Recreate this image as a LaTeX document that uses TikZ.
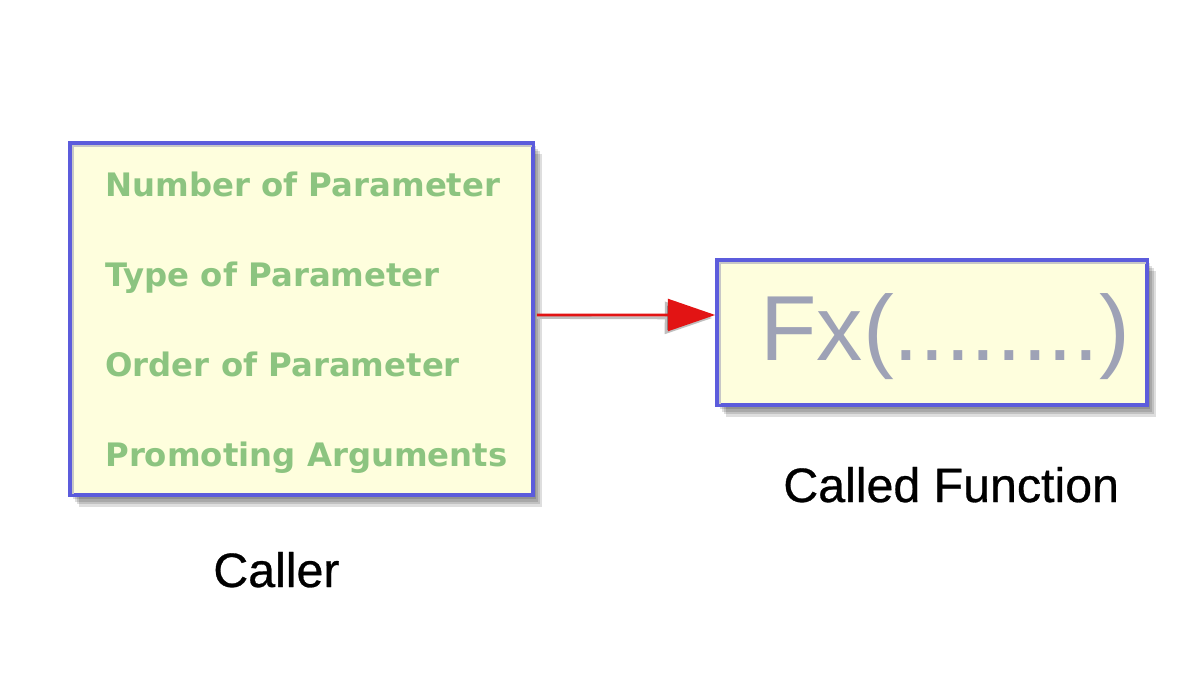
\documentclass[tikz,border=0pt]{standalone}
\usepackage{fontspec}
\setmainfont{Liberation Sans}
\newfontfamily\verd{DejaVu Sans}
\newfontfamily\labelfont[FakeBold=0.6]{Liberation Sans}
\usetikzlibrary{arrows.meta}
\definecolor{boxfill}{RGB}{254,254,221}
\definecolor{boxline}{RGB}{92,92,220}
\definecolor{paramgreen}{RGB}{140,196,128}
\definecolor{fxgrey}{RGB}{158,162,182}
\definecolor{arrowred}{RGB}{226,20,20}
\tikzset{
  px/.style={x=0.02cm,y=-0.02cm},
  box/.style={draw=boxline,line width=2pt,fill=boxfill,inner sep=0pt},
  shade1/.style={fill=black,opacity=0.13,draw=none},
  innerline/.style={black!22,line width=1.4pt},
  param/.style={anchor=base west,inner sep=0pt,text=paramgreen,font=\verd\bfseries\fontsize{18.4}{20}\selectfont},
  label/.style={anchor=base west,inner sep=0pt,text=black,font=\labelfont\fontsize{27.5}{30}\selectfont},
  fxtext/.style={anchor=base west,inner sep=0pt,text=fxgrey,font=\fontsize{52.6}{56}\selectfont},
  callarrow/.style={draw=arrowred,line width=1.5pt,-{Triangle[length=0.95cm,width=0.64cm,fill=arrowred]}},
  callarrowshadow/.style={draw=black!25,line width=1.6pt,-{Triangle[length=0.95cm,width=0.64cm,fill=black!85]}},
}
\begin{document}
\begin{tikzpicture}[px]
\useasboundingbox[fill=white] (0,0) rectangle (1200,675);
\path node[minimum width=0.02cm*463,minimum height=0.02cm*352,inner sep=0pt] (callerbg) at (301.5,319) {}
      node[minimum width=0.02cm*430,minimum height=0.02cm*145,inner sep=0pt] (calleebg) at (932,332.5) {};
% soft shadows
\foreach \s in {3,5,7,9}{
  \fill[shade1] ([xshift=\s*0.02cm,yshift=-\s*0.025cm]callerbg.south west) rectangle ([xshift=\s*0.02cm,yshift=-\s*0.025cm]callerbg.north east);
  \fill[shade1] ([xshift=\s*0.02cm,yshift=-\s*0.025cm]calleebg.south west) rectangle ([xshift=\s*0.02cm,yshift=-\s*0.025cm]calleebg.north east);
}
% boxes
\node[box,minimum width=0.02cm*463,minimum height=0.02cm*352] (caller) at (301.5,319) {};
\node[box,minimum width=0.02cm*430,minimum height=0.02cm*145] (callee) at (932,332.5) {};
% inner grey edges
\draw[innerline] ([xshift=0.1cm,yshift=0.06cm]caller.south west) -- ([xshift=0.1cm,yshift=-0.1cm]caller.north west) -- ([xshift=-0.06cm,yshift=-0.1cm]caller.north east);
\draw[innerline] ([xshift=0.1cm,yshift=0.06cm]callee.south west) -- ([xshift=0.1cm,yshift=-0.1cm]callee.north west) -- ([xshift=-0.06cm,yshift=-0.1cm]callee.north east);
% parameters
\node[param] (p1) at (105,197) {Number of Parameter};
\node[param] (p2) at (105,287) {Type of Parameter};
\node[param] (p3) at (105,377) {Order of Parameter};
\node[param] (p4) at (105,466) {Promoting Arguments};
% function text
\node[fxtext] (fx) at (760,360) {Fx(........)};
% arrow
\draw[callarrowshadow] ([yshift=0.03cm,xshift=0.04cm]caller.east) -- ([yshift=0.29cm,xshift=-0.06cm]callee.west);
\draw[callarrow] ([yshift=0.08cm,xshift=0.04cm]caller.east) -- ([yshift=0.35cm]callee.west);
% labels
\node[label] (callerlabel) at (213,587) {Caller};
\node[label] (calledlabel) at (783,502) {Called Function};
\end{tikzpicture}
\end{document}
